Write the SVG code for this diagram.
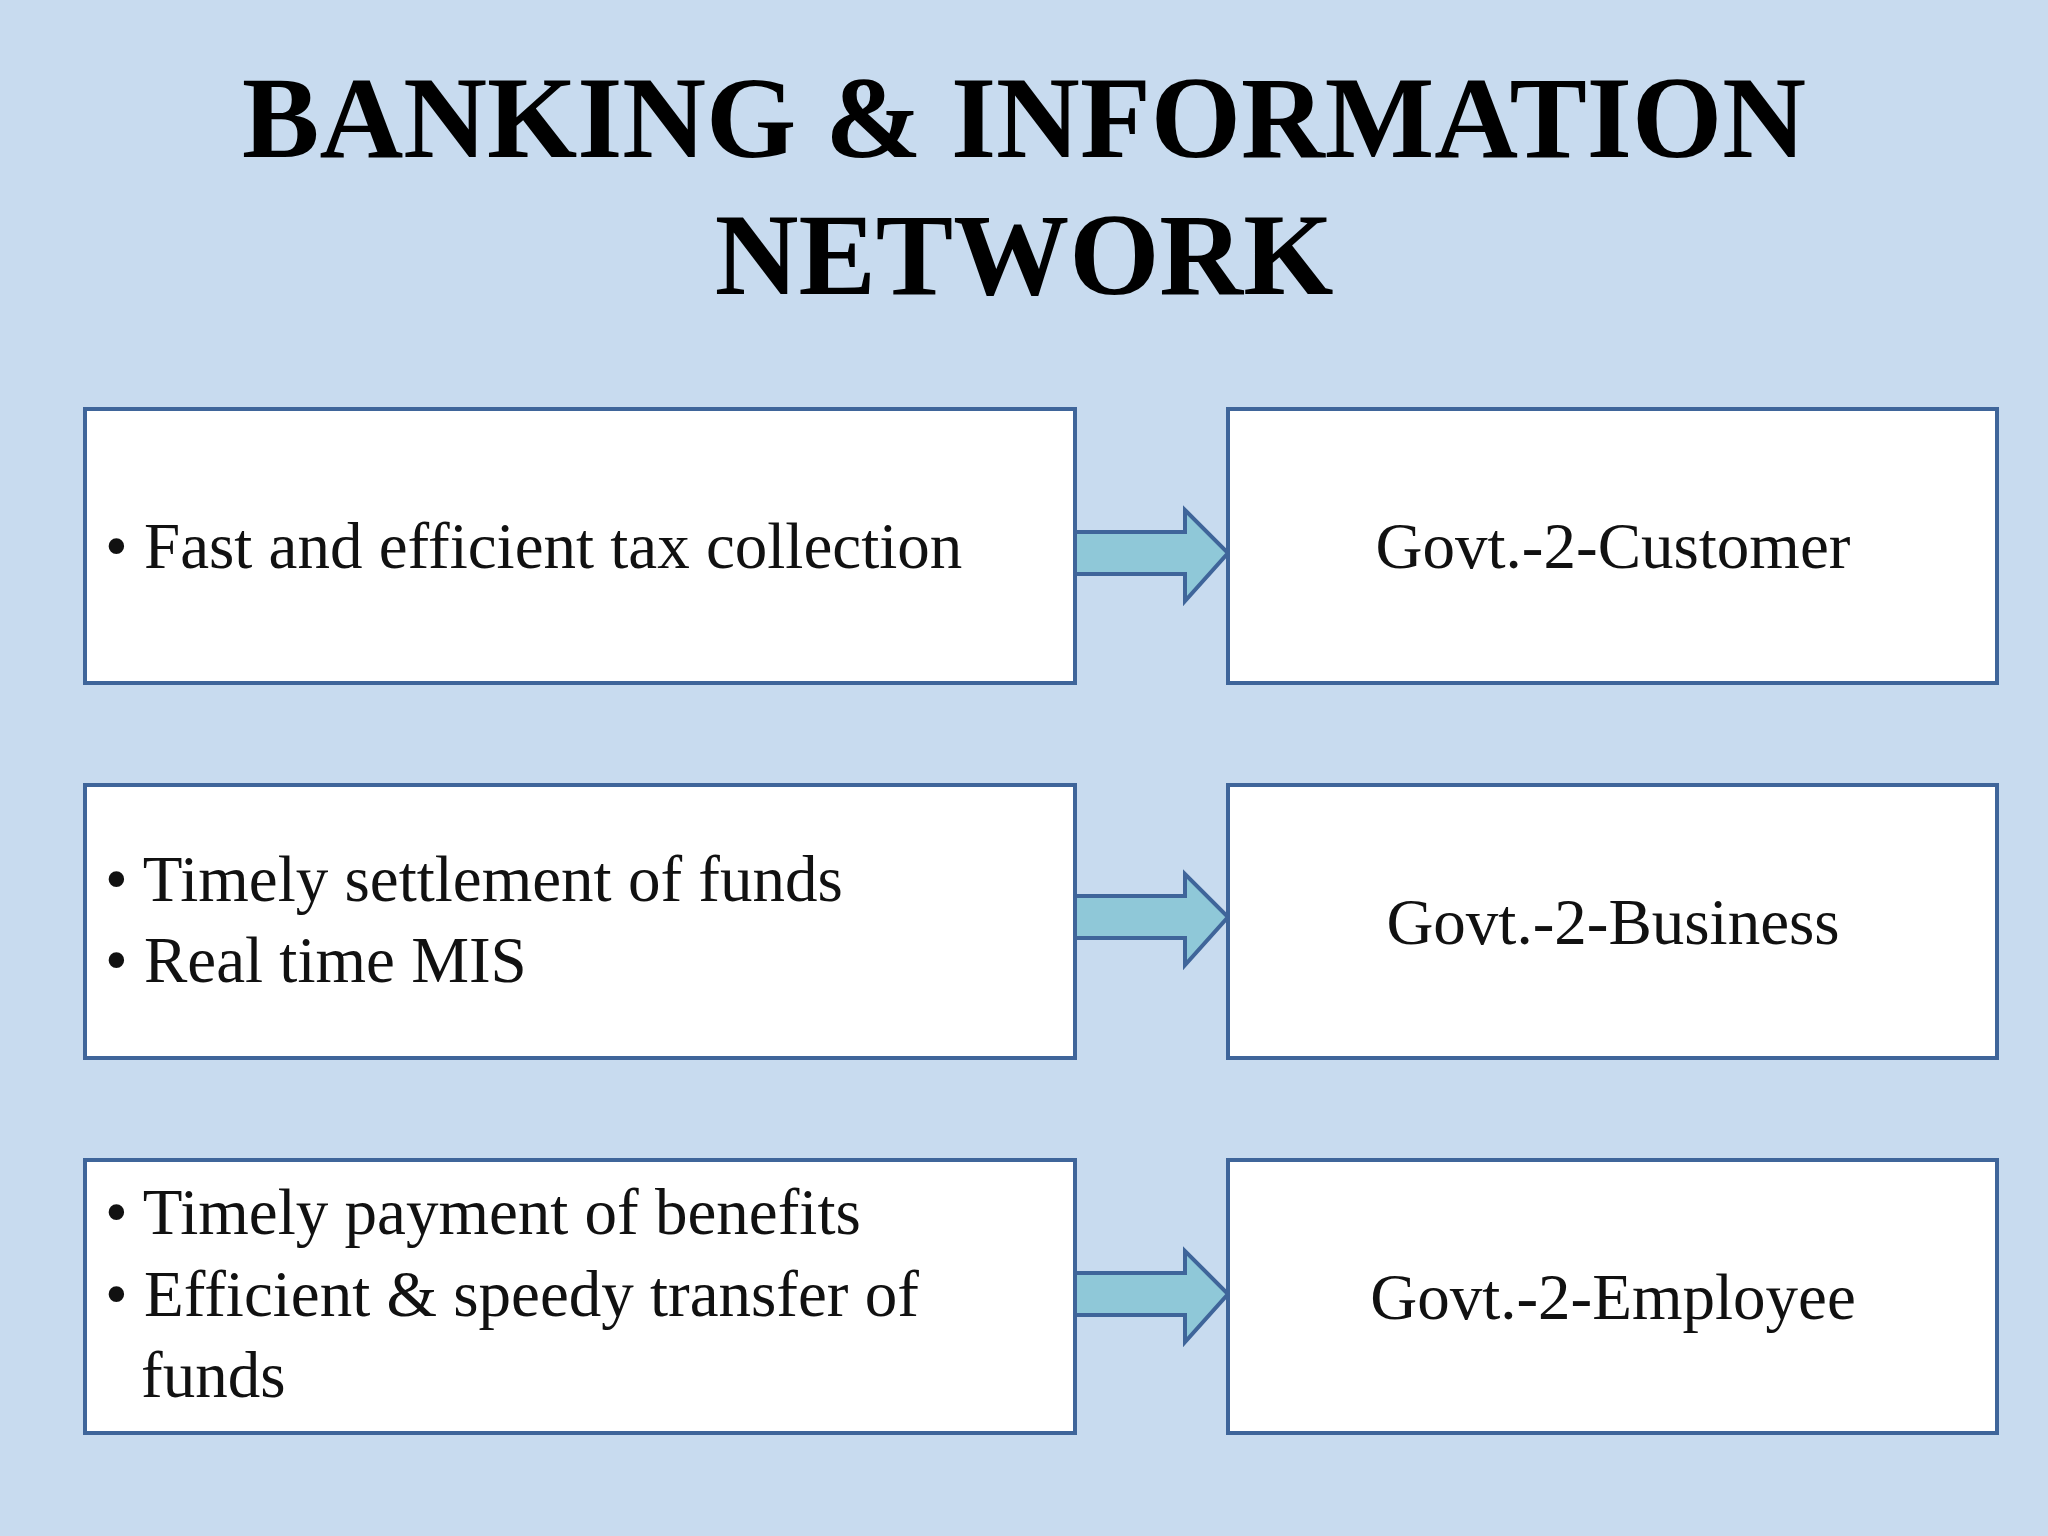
<svg xmlns="http://www.w3.org/2000/svg" width="2048" height="1536" viewBox="0 0 2048 1536">
<style>
.box{fill:#fff;stroke:#3f659a;stroke-width:4}
.arr{fill:#8fc8d8;stroke:#3f659a;stroke-width:4;stroke-linejoin:miter}
.t{font-family:"Liberation Serif",serif;font-size:65px;fill:#111}
.h{font-family:"Liberation Serif",serif;font-size:116px;font-weight:bold;fill:#000;text-anchor:middle}
.c{text-anchor:middle}
</style>
<defs><path id="a" class="arr" d="M1075,532 H1185 V510 L1228,553 L1185,601 V574 H1075 Z"/></defs>
<rect width="2048" height="1536" fill="#c8dbef"/>
<text class="h" x="1024" y="157">BANKING &amp; INFORMATION</text>
<text class="h" x="1024" y="294">NETWORK</text>
<g id="connectors">
<use href="#a"/>
<use href="#a" y="364"/>
<use href="#a" y="741"/>
</g>
<g id="l1"><rect class="box" x="85" y="409" width="990" height="274"/><text class="t" x="105" y="568">• Fast and efficient tax collection</text></g>
<g id="r1"><rect class="box" x="1228" y="409" width="769" height="274"/><text class="t c" x="1613" y="568">Govt.-2-Customer</text></g>
<g id="l2"><rect class="box" x="85" y="785" width="990" height="273"/><text class="t" x="105" y="901">• Timely settlement of  funds</text><text class="t" x="105" y="982">• Real time MIS</text></g>
<g id="r2"><rect class="box" x="1228" y="785" width="769" height="273"/><text class="t c" x="1613" y="944">Govt.-2-Business</text></g>
<g id="l3"><rect class="box" x="85" y="1160" width="990" height="273"/><text class="t" x="105" y="1234">• Timely payment of  benefits</text><text class="t" x="105" y="1316">• Efficient &amp; speedy transfer of</text><text class="t" x="141" y="1397">funds</text></g>
<g id="r3"><rect class="box" x="1228" y="1160" width="769" height="273"/><text class="t c" x="1613" y="1319">Govt.-2-Employee</text></g>
</svg>
